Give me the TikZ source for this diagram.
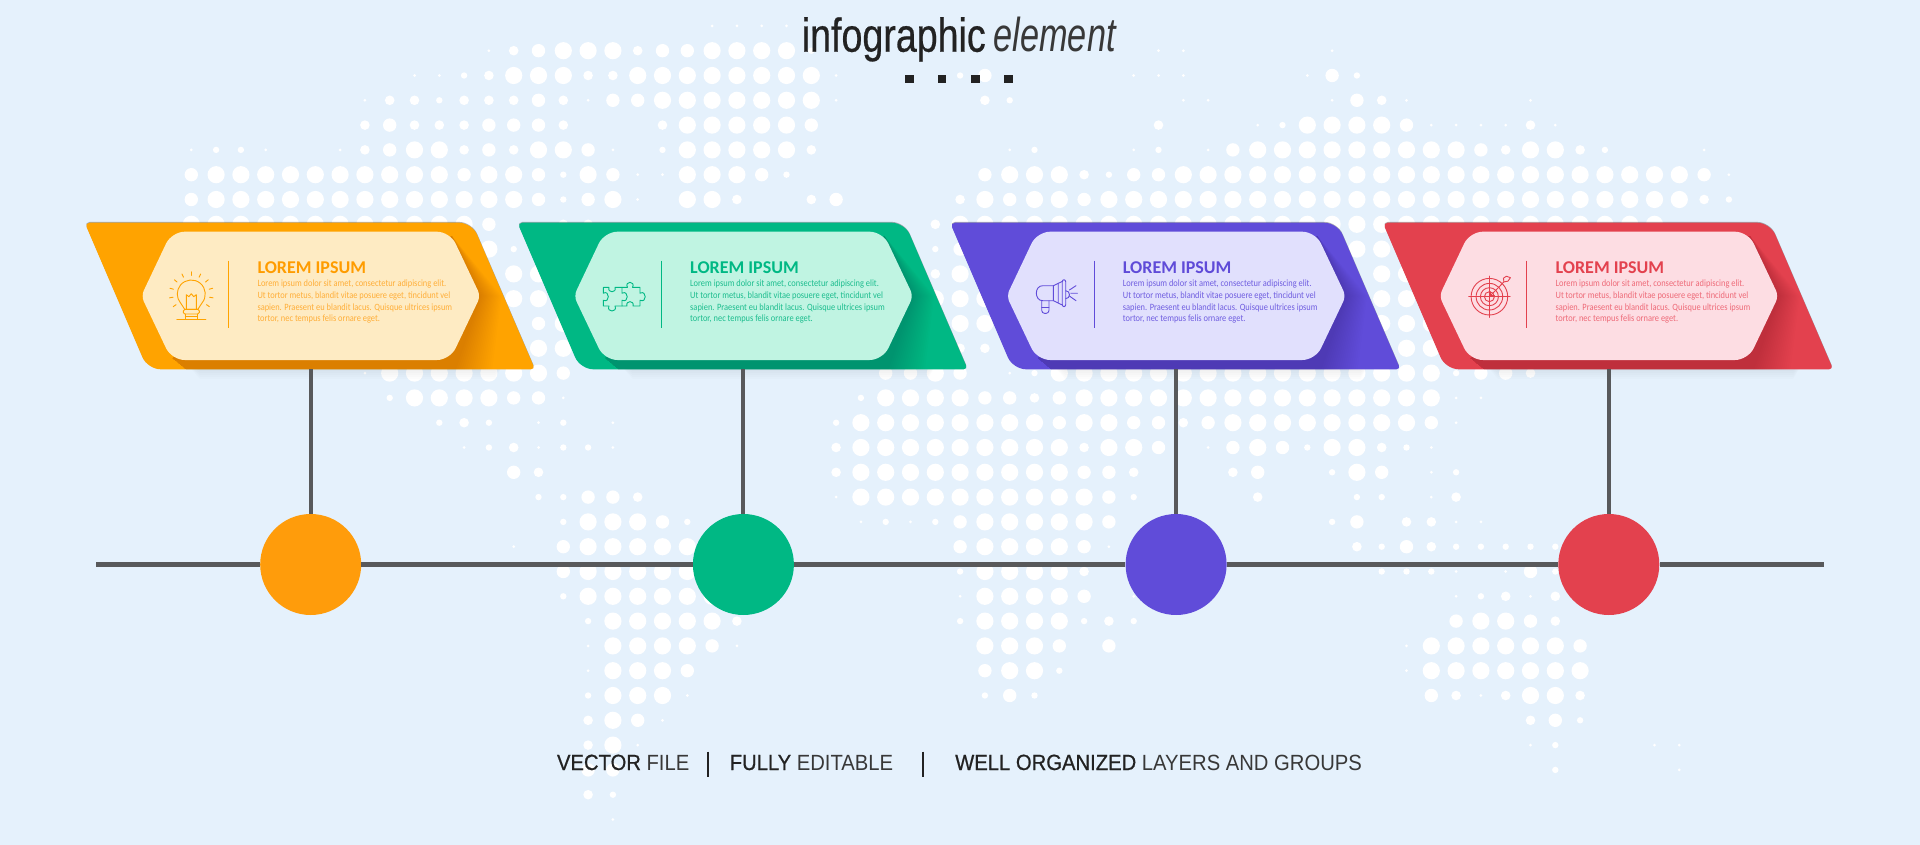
\documentclass[tikz,border=0pt]{standalone}
\usepackage{fontspec}
\setmainfont{Carlito}
\newfontfamily\bodyfont[FakeStretch=0.875]{Carlito}
\newfontfamily\titlefont[FakeStretch=0.79,FakeBold=0.5]{Liberation Sans}
\newfontfamily\subtitlefont[FakeStretch=0.72]{Liberation Sans}
\newfontfamily\footfont[FakeStretch=0.92]{Liberation Sans}
\newfontfamily\footboldfont[FakeStretch=0.92,FakeBold=0.7]{Liberation Sans}

\definecolor{pagebg}{HTML}{E5F1FC}
\definecolor{darkink}{HTML}{222222}
\definecolor{softink}{HTML}{383838}
\definecolor{stemgrey}{HTML}{58595B}
\definecolor{boxa}{HTML}{FFA300}
\definecolor{boxb}{HTML}{00B884}
\definecolor{boxc}{HTML}{604CD9}
\definecolor{boxd}{HTML}{E3414E}
\definecolor{tinta}{HTML}{FEEBC3}
\definecolor{tintb}{HTML}{C0F4E2}
\definecolor{tintc}{HTML}{E1E0FD}
\definecolor{tintd}{HTML}{FDDDE3}
\definecolor{heada}{HTML}{FF9C00}
\definecolor{headb}{HTML}{00B884}
\definecolor{headc}{HTML}{5F4BD8}
\definecolor{headd}{HTML}{E3414E}
\definecolor{bodya}{HTML}{FFAE38}
\definecolor{bodyb}{HTML}{1CBD8E}
\definecolor{bodyc}{HTML}{6F5DE0}
\definecolor{bodyd}{HTML}{EE6A78}
\definecolor{dota}{HTML}{FF9C0B}
\definecolor{dotb}{HTML}{00B884}
\definecolor{dotc}{HTML}{604CD9}
\definecolor{dotd}{HTML}{E3414E}

\tikzset{
  stemline/.style={draw=stemgrey,line width=4pt},
  timeline/.style={draw=stemgrey,line width=4.6pt},
  timedot/.style={circle,inner sep=0pt,minimum size=101pt},
  headtext/.style={anchor=base west,inner sep=0pt,font=\fontsize{18}{20}\selectfont\bfseries},
  bodytext/.style={anchor=north west,inner sep=0pt,align=left,font=\fontsize{9.6}{11.67}\bodyfont},
  squaremark/.style={fill=darkink,inner sep=0pt,minimum width=8.6pt,minimum height=8.6pt},
  iconline/.style={line width=.9pt,line cap=round,line join=round},
}

\newcount\dotcol
\newcommand{\dotput}[1]{%
  \ifnum#1=1 \def\dotr{1.5}\fi
  \ifnum#1=2 \def\dotr{3.2}\fi
  \ifnum#1=3 \def\dotr{4.8}\fi
  \ifnum#1=4 \def\dotr{6.7}\fi
  \ifnum#1=5 \def\dotr{8.6}\fi
  \ifnum#1>0 \fill[white] ({191.3+24.8*\the\dotcol},{50.7+24.8*\dotrow}) circle[radius=\dotr];\fi
  \advance\dotcol by 1 }
\def\dotscan#1{\ifx#1.\let\dotnext\relax\else\dotput{#1}\let\dotnext\dotscan\fi\dotnext}

\newcommand{\iconbulb}{%
  \draw[iconline] (10.7,6.3) arc (40:-220:14) -- (-6.5,12.7) -- (6.5,12.7) -- cycle;
  \draw[iconline] (-5,12.7) -- (-5,-2) -- (-2.4,0) -- (0,-3) -- (2.4,0) -- (5,-2) -- (5,12.7);
  \draw[iconline,rounded corners=1.5pt] (-8,12.7) rectangle (8,17.3);
  \draw[iconline] (-6,17.3) -- (-6,22) (6,17.3) -- (6,22) (-6,19.5) -- (6,19.5);
  \draw[iconline] (-14.5,22.7) -- (14.5,22.7);
  \foreach \a in {-90,-65,-40,-15,10,35,-115,-140,-165,170,145}
    \draw[iconline] (0,-2.7) ++(\a:18.5) -- ++(\a:3.6);
}
\newcommand{\iconpuzzle}{%
  \draw[iconline] (-2,-9.3) -- (3.5,-9.3) .. controls (0,-16) and (12,-16) .. (8.5,-9.3) -- (16,-9.3) -- (16,-3.5)
    .. controls (23,-7) and (23,7) .. (16,3.5) -- (16,9.3) -- (9,9.3) .. controls (11,3.5) and (1,3.5) .. (3,9.3)
    -- (-2,9.3) -- (-2,3.5) .. controls (5,7) and (5,-7) .. (-2,-3.5) -- cycle;
  \draw[iconline] (-2,-9.3) -- (-9,-9.3) .. controls (-7,-3.5) and (-17,-3.5) .. (-15,-9.3) -- (-20.7,-9.3) -- (-20.7,-3.5)
    .. controls (-14,-7) and (-14,7) .. (-20.7,3.5) -- (-20.7,9.3) -- (-15,9.3) .. controls (-18,16) and (-6,16) .. (-9,9.3) -- (-2,9.3);
}
\newcommand{\iconhorn}{%
  \draw[iconline] (-3.3,-11) -- (-14,-11) .. controls (-22.5,-11) and (-22.5,4) .. (-14,4) -- (-3.3,4);
  \draw[iconline] (-3.3,-11) -- (6,-15.5) (6,8.5) -- (-3.3,4) (-3.3,-11) -- (-3.3,4) (1.5,-13) -- (1.5,6.3);
  \draw[iconline,rounded corners=2pt] (5.5,-17) rectangle (9,10);
  \draw[iconline] (9,-6) .. controls (14,-6) and (14,2) .. (9,2);
  \draw[iconline,rounded corners=3pt] (-15,4) -- (-15,16.7) -- (-7.7,16.7) -- (-7.7,4);
  \draw[iconline] (-15,10.5) -- (-7.7,10.5);
  \draw[iconline] (12.7,-6.7) -- (19.3,-11) (14,-3.5) -- (20.7,-3.5) (12.7,-.7) -- (19.3,4);
}
\newcommand{\icontarget}{%
  \foreach \rr in {18.3,13.3,9,5}
    \draw[iconline] (0,0) circle[radius=\rr];
  \draw[iconline] (-20.7,0) -- (20.7,0) (0,-20.7) -- (0,20.7);
  \draw[iconline] (1,-1) -- (14.5,-14.8);
  \draw[iconline] (1,-1) -- (1,-5) (1,-1) -- (5,-1);
  \draw[iconline] (14.5,-14.8) -- (14,-18.5) -- (17,-20.5) -- (21,-19) -- (18.5,-15.5) -- cycle;
}

\begin{document}
\begin{tikzpicture}[x=1pt,y=-1pt]
  \useasboundingbox (0,0) rectangle (1920,845);
  \fill[pagebg] (0,0) rectangle (1920,845);

  \foreach \dotrow/\dotstart/\dotdigits in {
    -1/21/1111,
    0/12/13455534455552, 0/39/11, 0/46/1,
    1/9/112355533555555551, 1/31/24, 1/38/111, 1/45/142,
    2/7/13323334314455555551, 2/32/32, 2/40/11, 2/46/1431, 2/54/1,
    3/7/3433344430003555554, 3/39/3, 3/43/1255554111131,
    4/0/12210013455343554102555553, 4/33/12, 4/38/12, 4/41/14555555555435532, 4/61/1,
    5/0/4555555555545542541155542, 5/32/4555324455 55555 55555 55555 5555 41,
    6/0/45555555555555 42451 0553 0034, 6/31/35455455555 55555 55555 55555 5555 32,
    7/0/5555555555554, 7/15/33, 7/30/3 55555 55555 55555 55555 55555 5555,
    8/12/52, 8/30/24, 8/47/55,
    9/13/55, 9/30/35, 9/48/55,
    10/13/55, 10/30/555, 10/48/55,
    11/14/45, 11/31/55, 11/48/555,
    12/14/55, 12/31/33, 12/49/55,
    13/7/155555554, 13/28/4454012 55555 55555 55555 5 2443,
    14/8/25555441, 14/27/255554434 55555 55555 55555 11,
    15/10/23201201, 15/26/2 5555555 5455 4434 55555555 41,
    16/11/1231221, 16/26/3 5555555 55 3 55 4 0 1 4 5 4 2 55 3 2 1,
    17/13/43, 17/26/3 5555555 55 443 000 34 00 254 0 12,
    18/14/22443, 18/26/1 5555555 555 42 0000 3 000 22 0 13,
    19/15/255542, 19/27/12124555554, 19/46/2403311,
    20/13/1, 20/15/455555, 20/31/4555541, 20/47/3243222221,
    21/15/455555, 21/31/255553, 21/48/22210142,
    22/15/2555555, 22/31/15555401, 22/51/12313,
    23/16/2555553, 23/31/25555232, 23/51/45543,
    24/16/1555541, 24/32/555404, 24/49/15555554,
    25/16/15554, 25/32/4552, 25/49/15555555,
    26/16/25551, 26/32/242, 26/50/4313553,
    27/16/3541, 27/54/342,
    28/16/351, 28/54/12, 28/59/11,
    29/16/44, 29/55/2, 29/60/1,
    30/16/32,
    31/17/1}{
    \dotcol=\dotstart\relax
    \expandafter\dotscan\dotdigits.
  }

  \node[anchor=base west,inner sep=0pt,text=darkink,font=\fontsize{47.6}{50}\titlefont] (titlemain) at (801.6,51.7) {infographic};
  \node[anchor=base west,inner sep=0pt,text=softink,font=\fontsize{47.6}{50}\subtitlefont\itshape] (titleelement) at (993.5,51.7) {element};
  \foreach \m/\mx in {a/909.2,b/942,c/975.3,d/1008.3}
    \node[squaremark] (mark\m) at (\mx,79.2) {};

  \def\outerpath{(300,369.3) [rounded corners=13pt] -- (147.6,369.3) [rounded corners=5pt] -- (84.7,222.7) [rounded corners=13pt] -- (472,222.7) [rounded corners=4pt] -- (535,369.3) -- cycle}
  \def\hexpath{[rounded corners=13pt] (300,231.7) -- (171.7,231.7) [rounded corners=6pt] -- (141.2,296) [rounded corners=13pt] -- (171.7,360) -- (450,360) [rounded corners=6pt] -- (480.5,296) [rounded corners=13pt] -- (450,231.7) -- cycle}

  \foreach \n/\dx/\icon in {a/0/\iconbulb,b/432.7/\iconpuzzle,c/865.4/\iconhorn,d/1298.1/\icontarget}{
    \begin{scope}[shift={(\dx,0)}]
      \foreach \d in {2,4,...,10}
        \fill[black,opacity=.012] (185,362) -- (505,362) -- (495,369+\d) -- (200,369+\d) -- cycle;
      \fill[black,opacity=.3,yshift=.8pt] \outerpath;
      \fill[box\n] \outerpath;
      \begin{scope}
        \clip \outerpath;
        \foreach \d in {2,4,...,36}
          \fill[black,opacity=.008] (452,236) -- ({480+.6*\d},296) -- ({452+1.1*\d},375) -- (189,372) -- (172,358) -- cycle;
      \end{scope}
      \fill[tint\n] \hexpath;
      \begin{scope}[shift={(191.3,296.7)},draw=box\n]
        \icon
      \end{scope}
      \draw[box\n,line width=1pt] (228.7,260.7) -- (228.7,327.7);
      \node[headtext,text=head\n] (head\n) at (257.3,273.3) {LOREM IPSUM};
      \node[bodytext,text=body\n] (body\n) at (257.3,279.8) {Lorem ipsum dolor sit amet, consectetur adipiscing elit.\\
        Ut tortor metus, blandit vitae posuere eget, tincidunt vel\\
        sapien. Praesent eu blandit lacus. Quisque ultrices ipsum\\
        tortor, nec tempus felis ornare eget.};
      \coordinate (stem\n) at (310.7,369.3);
      \node[timedot,fill=dot\n] (dot\n) at (310.7,564.5) {};
      \draw[stemline] (stem\n) -- (dot\n);
    \end{scope}
  }

  \coordinate (linestart) at (96,564.5);
  \coordinate (lineend) at (1824,564.5);
  \draw[timeline] (linestart) -- (dota);
  \draw[timeline] (dota) -- (dotb);
  \draw[timeline] (dotb) -- (dotc);
  \draw[timeline] (dotc) -- (dotd);
  \draw[timeline] (dotd) -- (lineend);

  \node[anchor=base west,inner sep=0pt,text=softink,font=\fontsize{22}{24}\footfont] (footvector) at (556.8,770) {{\color{darkink}\footboldfont VECTOR} FILE};
  \node[anchor=base west,inner sep=0pt,text=softink,font=\fontsize{22}{24}\footfont] (footfully) at (729.5,770) {{\color{darkink}\footboldfont FULLY} EDITABLE};
  \node[anchor=base west,inner sep=0pt,text=softink,font=\fontsize{22}{24}\footfont] (footwell) at (955,770) {{\color{darkink}\footboldfont WELL ORGANIZED} LAYERS AND GROUPS};
  \draw[darkink,line width=1.6pt] (708.2,751.7) -- (708.2,776.7);
  \draw[darkink,line width=1.6pt] (923.2,751.7) -- (923.2,776.7);
\end{tikzpicture}
\end{document}
